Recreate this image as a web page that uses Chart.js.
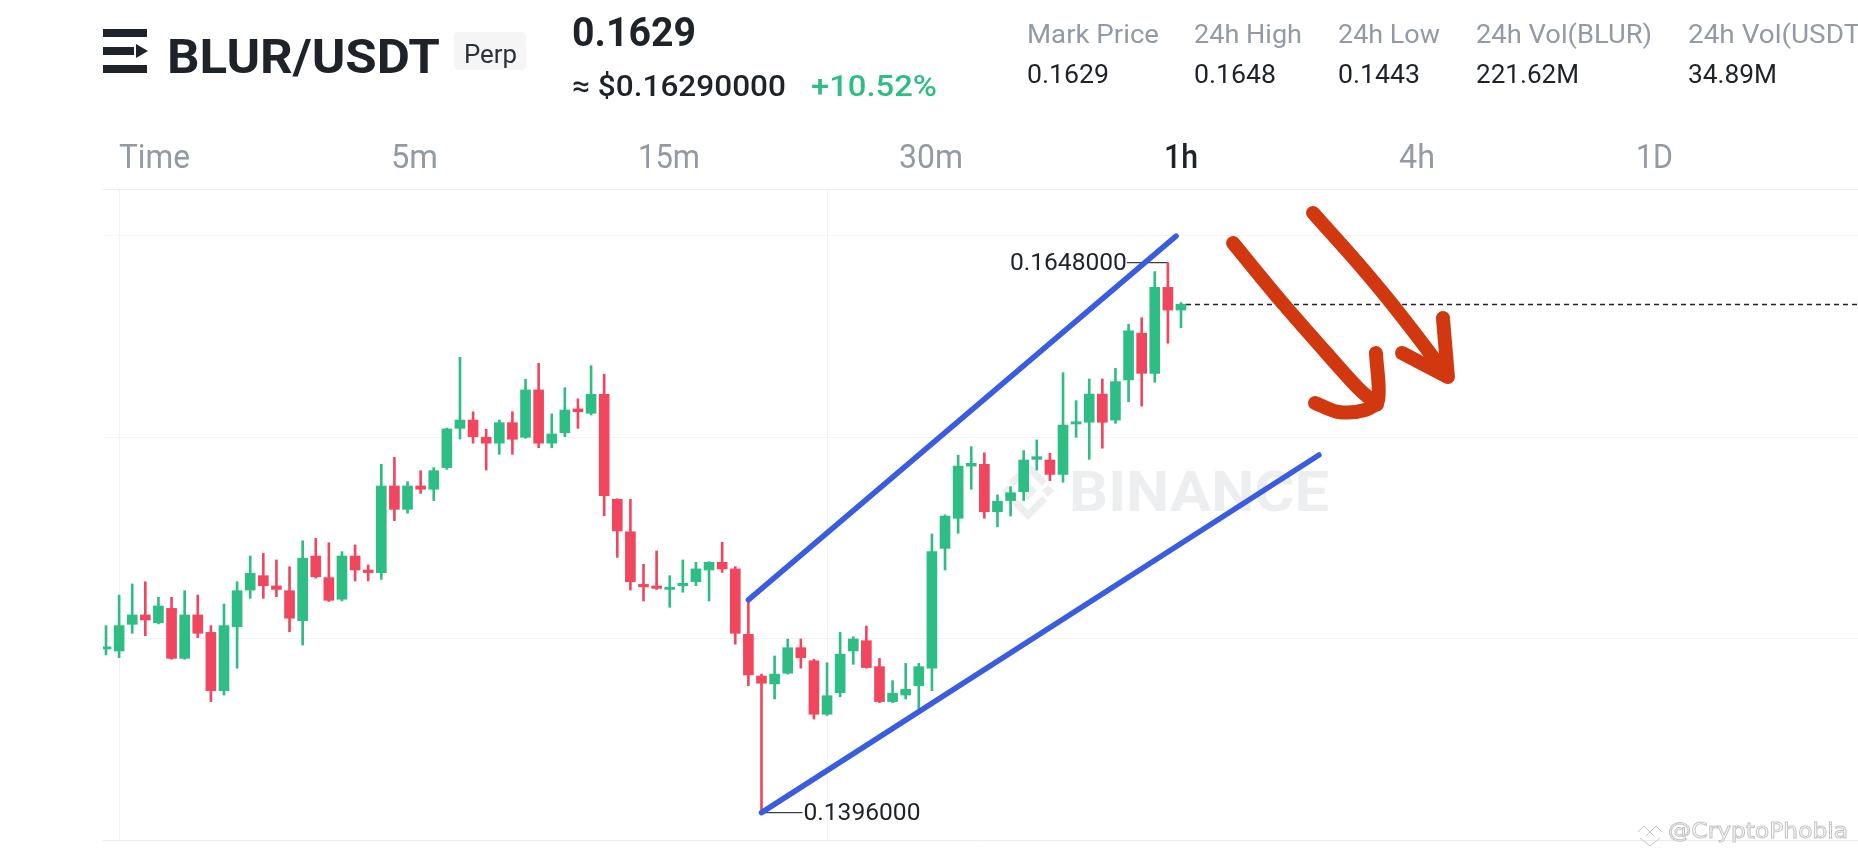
<!DOCTYPE html>
<html>
<head>
<meta charset="utf-8">
<script src="https://cdn.jsdelivr.net/npm/chart.js@4.4.0/dist/chart.umd.min.js"></script>
<style>
html,body{margin:0;padding:0;background:#fff;width:1858px;height:855px;overflow:hidden;position:relative;}
#c{position:absolute;left:0;top:0;}
.t{position:absolute;white-space:nowrap;line-height:1;font-family:Roboto,"Noto Sans",sans-serif;transform-origin:0 0;color:#1e2329;}
.lab{font-size:26px;color:#929aa5;top:21px;}
.val{font-size:26px;color:#1e2329;top:61px;}
.tab{font-size:33px;color:#929aa5;top:140px;}
#badge{position:absolute;left:454px;top:32px;width:72px;height:38px;background:#f5f5f5;border-radius:4px;}
#logo{position:absolute;left:103px;top:29px;}
</style>
</head>
<body>
<canvas id="c" width="1858" height="855"></canvas>

<svg id="logo" width="46" height="45" viewBox="0 0 46 45">
  <rect x="0" y="0" width="44" height="8" fill="#1e2329"/>
  <rect x="0" y="18" width="31" height="8" fill="#1e2329"/>
  <polygon points="33,15 45,22 33,29" fill="#1e2329"/>
  <rect x="0" y="36" width="44" height="8" fill="#1e2329"/>
</svg>
<div class="t" style="left:167px;top:32.6px;font-size:48px;font-weight:700;" data-w="273">BLUR/USDT</div>
<div id="badge"></div>
<div class="t" style="left:464px;top:41px;font-size:26px;color:#2b3139;" data-w="53">Perp</div>

<div class="t" style="left:572px;top:13.3px;font-size:40px;font-weight:700;" data-w="124">0.1629</div>
<div class="t" style="left:572px;top:72px;font-size:29px;font-weight:500;" data-w="214">≈ $0.16290000</div>
<div class="t" style="left:811px;top:72px;font-size:29px;font-weight:500;color:#2ebd85;" data-w="126">+10.52%</div>

<div class="t lab" style="left:1027px;" data-w="132">Mark Price</div>
<div class="t lab" style="left:1194px;" data-w="108">24h High</div>
<div class="t lab" style="left:1338px;" data-w="102">24h Low</div>
<div class="t lab" style="left:1476px;" data-w="176">24h Vol(BLUR)</div>
<div class="t lab" style="left:1688px;" data-w="182">24h Vol(USDT)</div>
<div class="t val" style="left:1027px;" data-w="82">0.1629</div>
<div class="t val" style="left:1194px;" data-w="82">0.1648</div>
<div class="t val" style="left:1338px;" data-w="82">0.1443</div>
<div class="t val" style="left:1476px;" data-w="103">221.62M</div>
<div class="t val" style="left:1688px;" data-w="89">34.89M</div>

<div class="t tab" data-cx="154" data-w="71">Time</div>
<div class="t tab" data-cx="414" data-w="47">5m</div>
<div class="t tab" data-cx="669" data-w="62">15m</div>
<div class="t tab" data-cx="931" data-w="64">30m</div>
<div class="t tab" data-cx="1181" data-w="34" style="color:#1e2329;font-weight:500;">1h</div>
<div class="t tab" data-cx="1417" data-w="36">4h</div>
<div class="t tab" data-cx="1654" data-w="37">1D</div>

<script>
// ---- candle data (price, USDT), one entry per 1h candle, left to right ----
const open = [0.14710,0.14701,0.14823,0.14866,0.14830,0.14896,0.14667,0.14866,0.14786,0.14519,
  0.14812,0.14980,0.15046,0.14999,0.14977,0.14840,0.15136,0.15037,0.14938,0.15136,
  0.15072,0.15060,0.15457,0.15350,0.15457,0.15442,0.15541,0.15721,0.15759,0.15680,
  0.15653,0.15747,0.15680,0.15897,0.15653,0.15701,0.15810,0.15790,0.15877,0.15396,
  0.15247,0.15006,0.14999,0.14983,0.15000,0.15018,0.15072,0.15107,0.15077,0.14777,
  0.14586,0.14550,0.14599,0.14716,0.14656,0.14411,0.14510,0.14701,0.14748,0.14629,
  0.14469,0.14499,0.14542,0.14622,0.15171,0.15309,0.15548,0.15556,0.15339,0.15390,
  0.15431,0.15579,0.15576,0.15510,0.15741,0.15749,0.15878,0.15759,0.15943,0.16157,
  0.15973,0.16367,0.16263];
const high = [0.14817,0.14957,0.15008,0.15018,0.14947,0.14947,0.14977,0.14957,0.14817,0.14916,
  0.15018,0.15136,0.15148,0.15118,0.15087,0.15206,0.15217,0.15197,0.15156,0.15187,
  0.15095,0.15556,0.15588,0.15477,0.15527,0.15541,0.15722,0.16047,0.15797,0.15717,
  0.15759,0.15797,0.15946,0.16019,0.15787,0.15907,0.15856,0.16008,0.15969,0.15398,
  0.15396,0.15098,0.15159,0.15046,0.15118,0.15107,0.15110,0.15199,0.15087,0.14935,
  0.14595,0.14678,0.14756,0.14756,0.14663,0.14647,0.14786,0.14766,0.14815,0.14667,
  0.14565,0.14644,0.14644,0.15237,0.15325,0.15598,0.15637,0.15609,0.15416,0.15454,
  0.15619,0.15668,0.15607,0.15976,0.15848,0.15947,0.15947,0.15996,0.16198,0.16228,
  0.16439,0.16480,0.16297];
const low = [0.14683,0.14670,0.14782,0.14771,0.14825,0.14663,0.14663,0.14762,0.14469,0.14499,
  0.14622,0.14942,0.14942,0.14950,0.14789,0.14728,0.15035,0.14928,0.14930,0.15022,
  0.15022,0.15029,0.15298,0.15332,0.15423,0.15390,0.15533,0.15672,0.15653,0.15530,
  0.15602,0.15602,0.15675,0.15632,0.15632,0.15683,0.15721,0.15782,0.15321,0.15130,
  0.14980,0.14930,0.14983,0.14901,0.14970,0.15000,0.14930,0.15061,0.14732,0.14542,
  0.13960,0.14481,0.14595,0.14622,0.14389,0.14405,0.14491,0.14640,0.14622,0.14464,
  0.14464,0.14481,0.14430,0.14519,0.15072,0.15240,0.15442,0.15309,0.15270,0.15319,
  0.15390,0.15530,0.15481,0.15474,0.15680,0.15579,0.15630,0.15744,0.15843,0.15823,
  0.15932,0.16111,0.16182];
const close = [0.14720,0.14817,0.14866,0.14843,0.14907,0.14667,0.14866,0.14782,0.14519,0.14817,
  0.14977,0.15057,0.15000,0.14983,0.14851,0.15126,0.15041,0.14933,0.15136,0.15072,
  0.15060,0.15457,0.15350,0.15457,0.15442,0.15527,0.15718,0.15759,0.15683,0.15653,
  0.15747,0.15671,0.15897,0.15653,0.15695,0.15805,0.15797,0.15877,0.15412,0.15251,
  0.15018,0.14995,0.14988,0.14993,0.15011,0.15077,0.15107,0.15077,0.14782,0.14591,
  0.14553,0.14595,0.14716,0.14670,0.14411,0.14496,0.14686,0.14756,0.14625,0.14469,
  0.14507,0.14525,0.14629,0.15156,0.15319,0.15548,0.15561,0.15339,0.15387,0.15426,
  0.15576,0.15591,0.15510,0.15736,0.15751,0.15878,0.15749,0.15935,0.16168,0.15973,
  0.16367,0.16263,0.16290];
const candleNo = open.map((_, i) => i + 1);

// ---- drawn annotations, in (candle number, price) units ----
const trendUpper = [{x:50, y:0.14935}, {x:82.62, y:0.16602}];
const trendLower = [{x:51, y:0.13960}, {x:93.52, y:0.15599}];
const arrowLeftShaft = [{x:86.97,y:0.16570},{x:90.55,y:0.16309},{x:94.36,y:0.16048},{x:96.65,y:0.15897},{x:97.95,y:0.15830}];
const arrowLeftHead  = [{x:97.87,y:0.16066},{x:98.03,y:0.15850},{x:97.03,y:0.15805},{x:95.00,y:0.15796},{x:93.22,y:0.15837}];
const arrowRightShaft= [{x:93.07,y:0.16708},{x:96.10,y:0.16505},{x:98.70,y:0.16320},{x:101.23,y:0.16126},{x:103.29,y:0.15960}];
const arrowRightHead = [{x:102.98,y:0.16227},{x:103.36,y:0.15956},{x:99.86,y:0.16066}];

// ---- axis settings / grid ----
const priceMin = 0.138348, priceMax = 0.168131;
const candleMin = 0.7712, candleMax = 134.64;
const gridPrices = [0.16607, 0.15683, 0.14759];
const gridCandles = [2, 56];
const lastPrice = close[close.length - 1];

const GREEN = '#2ebd85', RED = '#f0475e', BLUE = '#3a5ce0', ARROW = '#d2380f';
const col = candleNo.map((_, i) => close[i] >= open[i] ? GREEN : RED);

// fit header texts
document.querySelectorAll('[data-w]').forEach(el => {
  const w = el.getBoundingClientRect().width;
  const t = +el.dataset.w;
  el.style.transform = 'scaleX(' + (t / w) + ')';
  if (el.dataset.cx) el.style.left = (+el.dataset.cx - t / 2) + 'px';
});

function fitText(ctx, text, x, yb, w) {
  const m = ctx.measureText(text).width;
  ctx.save(); ctx.translate(x, yb); ctx.scale(w / m, 1); ctx.fillText(text, 0, 0); ctx.restore();
}

const deco = {
  id: 'deco',
  beforeDatasetsDraw(chart) {
    const {ctx, chartArea: a, scales: {x, y}} = chart;
    ctx.save();
    // grid
    ctx.strokeStyle = '#f2f3f5'; ctx.lineWidth = 1;
    gridPrices.forEach(p => {
      const py = Math.round(y.getPixelForValue(p)) + 0.5;
      ctx.beginPath(); ctx.moveTo(a.left, py); ctx.lineTo(a.right, py); ctx.stroke();
    });
    gridCandles.forEach(c => {
      const px = Math.round(x.getPixelForValue(c)) + 0.5;
      ctx.beginPath(); ctx.moveTo(px, a.top); ctx.lineTo(px, a.bottom); ctx.stroke();
    });
    ctx.strokeStyle = '#e9ebee';
    ctx.beginPath(); ctx.moveTo(a.left, a.top - 0.5); ctx.lineTo(a.right, a.top - 0.5); ctx.stroke();
    ctx.beginPath(); ctx.moveTo(a.left, a.bottom + 0.5); ctx.lineTo(a.right, a.bottom + 0.5); ctx.stroke();

    // BINANCE watermark
    ctx.fillStyle = '#eceef0';
    const cx = 1028, cy = 491;
    const dia = (X, Y, h) => { ctx.beginPath(); ctx.moveTo(X, Y - h); ctx.lineTo(X + h, Y); ctx.lineTo(X, Y + h); ctx.lineTo(X - h, Y); ctx.closePath(); ctx.fill(); };
    dia(cx, cy, 9); dia(cx - 20, cy, 6); dia(cx + 20, cy, 6);
    [-1, 1].forEach(s => {
      ctx.beginPath();
      ctx.moveTo(cx - 19, cy + s * 10); ctx.lineTo(cx, cy + s * 29); ctx.lineTo(cx + 19, cy + s * 10);
      ctx.lineTo(cx + 14, cy + s * 5); ctx.lineTo(cx, cy + s * 19); ctx.lineTo(cx - 14, cy + s * 5);
      ctx.closePath(); ctx.fill();
    });
    ctx.font = '700 56px Roboto';
    ctx.textBaseline = 'alphabetic';
    fitText(ctx, 'BINANCE', 1069, 511, 260);

    // @CryptoPhobia watermark
    ctx.font = '22px "DejaVu Sans"';
    ctx.strokeStyle = '#c4c4c4'; ctx.lineWidth = 1;
    const m = ctx.measureText('@CryptoPhobia').width;
    ctx.save(); ctx.translate(1668, 838); ctx.scale(180 / m, 1);
    ctx.fillStyle = '#ffffff'; ctx.fillText('@CryptoPhobia', 0, 0); ctx.strokeText('@CryptoPhobia', 0, 0);
    ctx.restore();
    ctx.beginPath();
    ctx.moveTo(1638, 832); ctx.lineTo(1644, 826); ctx.lineTo(1650, 832); ctx.lineTo(1656, 826); ctx.lineTo(1662, 832);
    ctx.moveTo(1640, 838); ctx.lineTo(1650, 846); ctx.lineTo(1660, 838);
    ctx.moveTo(1646, 836); ctx.lineTo(1650, 832); ctx.lineTo(1654, 836);
    ctx.stroke();

    // last price dashed line
    const lastX = x.getPixelForValue(candleNo[candleNo.length - 1]) + 5;
    const ly = Math.round(y.getPixelForValue(lastPrice)) + 0.5;
    ctx.strokeStyle = '#1e2329'; ctx.lineWidth = 1.3; ctx.setLineDash([5, 4]);
    ctx.beginPath(); ctx.moveTo(lastX, ly); ctx.lineTo(a.right, ly); ctx.stroke();
    ctx.setLineDash([]);

    // extreme labels
    const hi = Math.max(...high), lo = Math.min(...low);
    const hiIdx = high.indexOf(hi), loIdx = low.indexOf(lo);
    ctx.font = '24px Roboto'; ctx.fillStyle = '#1e2329'; ctx.strokeStyle = '#3a3f47'; ctx.lineWidth = 1.2;
    ctx.textBaseline = 'middle';
    const hx = x.getPixelForValue(candleNo[hiIdx]), hy = y.getPixelForValue(hi);
    ctx.beginPath(); ctx.moveTo(hx, hy); ctx.lineTo(hx - 41, hy); ctx.stroke();
    fitText(ctx, hi.toFixed(7), hx - 41 - 117, hy + 1, 117);
    const lx = x.getPixelForValue(candleNo[loIdx]), lyy = y.getPixelForValue(lo);
    ctx.beginPath(); ctx.moveTo(lx, lyy); ctx.lineTo(lx + 41, lyy); ctx.stroke();
    fitText(ctx, lo.toFixed(7), lx + 42, lyy + 1, 117);
    ctx.restore();
  }
};

const lineDs = (data, color, width, order, tension) => ({
  type: 'line', data, borderColor: color, borderWidth: width, pointRadius: 0,
  fill: false, tension: tension || 0, borderCapStyle: 'round', borderJoinStyle: 'round', order
});

new Chart(document.getElementById('c'), {
  type: 'bar',
  data: {
    datasets: [
      { data: candleNo.map((n, i) => ({x: n, y: [low[i], high[i]]})), backgroundColor: col,
        barThickness: 2, grouped: false, borderWidth: 0, order: 6 },
      { data: candleNo.map((n, i) => ({x: n, y: [open[i], close[i]]})), backgroundColor: col,
        barThickness: 10, minBarLength: 2, grouped: false, borderWidth: 0, order: 5 },
      lineDs(trendUpper, BLUE, 5.5, 3),
      lineDs(trendLower, BLUE, 5.5, 3),
      lineDs(arrowLeftShaft, ARROW, 14, 1, 0.3),
      lineDs(arrowLeftHead, ARROW, 14, 1, 0.3),
      lineDs(arrowRightShaft, ARROW, 14, 1, 0.3),
      lineDs(arrowRightHead, ARROW, 14, 1, 0)
    ]
  },
  options: {
    responsive: false, animation: false, devicePixelRatio: 1,
    layout: { padding: { left: 103, top: 190, right: 0, bottom: 15 } },
    plugins: { legend: { display: false }, tooltip: { enabled: false } },
    scales: {
      x: { type: 'linear', min: candleMin, max: candleMax, offset: false, display: false },
      y: { type: 'linear', min: priceMin, max: priceMax, display: false }
    }
  },
  plugins: [deco]
});
</script>
</body>
</html>
